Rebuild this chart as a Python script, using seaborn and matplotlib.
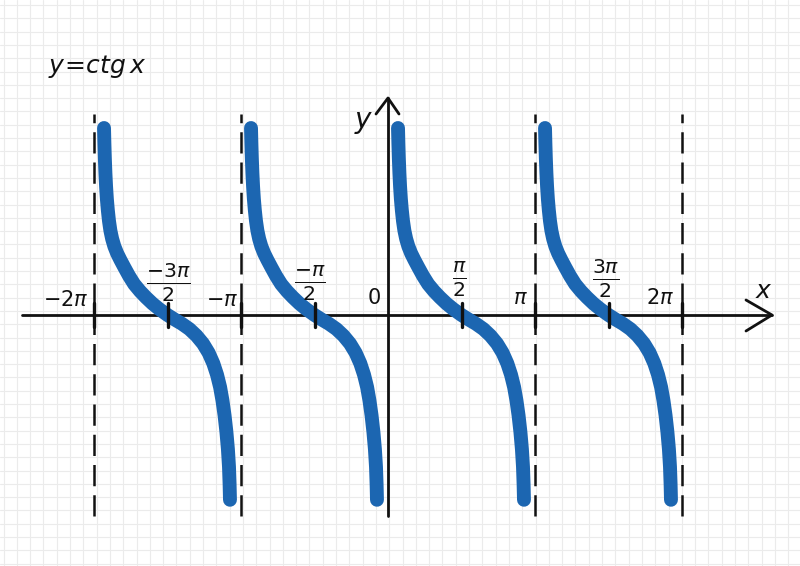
import numpy as np
import pandas as pd
import matplotlib
matplotlib.use("Agg")
import matplotlib.pyplot as plt
import seaborn as sns

PI = np.pi

# ---- data ----
# left edge (asymptote) of each drawn branch, in radians
branch_starts = [-2 * PI, -PI, 0.0, PI]
# one branch of y = ctg x: offset from the asymptote (rad) and value
branch_dx = [0.214, 0.222, 0.232, 0.244, 0.258, 0.275, 0.296, 0.320, 0.350, 0.388,
             0.435, 0.495, 0.565, 0.650, 0.748, 0.860, 0.985, 1.111, 1.250, 1.400,
             1.571, 1.720, 1.880, 2.040, 2.190, 2.330, 2.450, 2.550, 2.630, 2.695,
             2.745, 2.790, 2.830, 2.862, 2.885, 2.898, 2.906]
branch_y = [4.25, 3.90, 3.55, 3.22, 2.92, 2.64, 2.38, 2.14, 1.92, 1.73,
            1.56, 1.40, 1.25, 1.08, 0.89, 0.70, 0.54, 0.40, 0.26, 0.13,
            0.00, -0.10, -0.20, -0.32, -0.47, -0.65, -0.86, -1.10, -1.36, -1.64,
            -1.94, -2.28, -2.66, -3.05, -3.45, -3.85, -4.20]

asymptotes = [-2 * PI, -PI, PI, 2 * PI]
half_ticks = [-1.5 * PI, -0.5 * PI, 0.5 * PI, 1.5 * PI]
tick_labels = [r"$-2\pi$", r"$\frac{-3\pi}{2}$", r"$-\pi$", r"$\frac{-\pi}{2}$",
               r"$0$", r"$\frac{\pi}{2}$", r"$\pi$", r"$\frac{3\pi}{2}$", r"$2\pi$"]
title_text = r"$y\!=\!ctg\, x$"

rows = []
for b, s in enumerate(branch_starts):
    for dx, y in zip(branch_dx, branch_y):
        rows.append({"x": s + dx, "y": y, "branch": b})
df = pd.DataFrame(rows)

# ---- layout helpers (pixel -> data) ----
PX_PER_RAD = 147.0 / PI
PX_PER_UNIT = 44.0
X0, Y0 = 388.0, 315.0
W, H = 800, 566
def X(px):
    return (px - X0) / PX_PER_RAD
def Y(py):
    return (Y0 - py) / PX_PER_UNIT

sns.set_theme(style="white")
plt.rcParams["mathtext.fontset"] = "dejavusans"
plt.rcParams["font.family"] = ["DejaVu Sans"]

fig = plt.figure(figsize=(8, 5.66), dpi=100)
bg = fig.add_axes([0, 0, 1, 1])
bg.set_xlim(0, W)
bg.set_ylim(H, 0)
bg.axis("off")
grid_color = "#ebebeb"
for gx in np.arange(3.5, W, 13.3):
    bg.axvline(gx, color=grid_color, lw=0.8, zorder=0)
for gy in np.arange(5.0, H, 13.3):
    bg.axhline(gy, color=grid_color, lw=0.8, zorder=0)

ax = fig.add_axes([0, 0, 1, 1])
ax.patch.set_alpha(0)
ax.set_xlim(X(0), X(W))
ax.set_ylim(Y(H), Y(0))
ax.axis("off")

ink = "#111111"
blue = "#1c66b1"

# asymptotes
for a in asymptotes:
    ax.plot([a, a], [Y(516), Y(114)], color=ink, lw=1.8,
            ls=(0, (8.5, 3.6)), zorder=2)

# curves
sns.lineplot(data=df, x="x", y="y", units="branch", estimator=None, sort=False,
             color=blue, lw=10.0, solid_capstyle="round", solid_joinstyle="round",
             ax=ax, zorder=4, legend=False)

# x axis with arrow
ax.plot([X(22), X(772)], [0, 0], color=ink, lw=2.0, zorder=3, solid_capstyle="round")
ax.plot([X(746), X(772), X(746)], [Y(300), Y(315), Y(331)], color=ink, lw=2.0,
        zorder=3, solid_capstyle="round", solid_joinstyle="round")
# y axis with arrow
ax.plot([0, 0], [Y(516), Y(98)], color=ink, lw=2.0, zorder=3, solid_capstyle="round")
ax.plot([X(376), X(388), X(399)], [Y(114), Y(98), Y(114)], color=ink, lw=2.0,
        zorder=3, solid_capstyle="round", solid_joinstyle="round")

# tick marks
for t in half_ticks + asymptotes:
    ax.plot([t, t], [Y(303), Y(327)], color=ink, lw=2.4, zorder=5,
            solid_capstyle="round")

# tick labels
label_pos = [(-2 * PI, 66, 300), (-1.5 * PI, 168, 283), (-PI, 222, 300),
             (-0.5 * PI, 310, 283), (0.0, 374, 298), (0.5 * PI, 459, 279),
             (PI, 520, 298), (1.5 * PI, 606, 279), (2 * PI, 660, 298)]
for lab, (_, px, py) in zip(tick_labels, label_pos):
    fs = 21 if "frac" in lab else 15
    ax.text(X(px), Y(py), lab, ha="center", va="center", fontsize=fs,
            color=ink, zorder=6)

ax.text(X(764), Y(291), r"$x$", ha="center", va="center", fontsize=18, color=ink)
ax.text(X(364), Y(122), r"$y$", ha="center", va="center", fontsize=20, color=ink)
ax.text(X(97), Y(66), title_text, ha="center", va="center", fontsize=18, color=ink)

fig.savefig("out.png", dpi=100)
